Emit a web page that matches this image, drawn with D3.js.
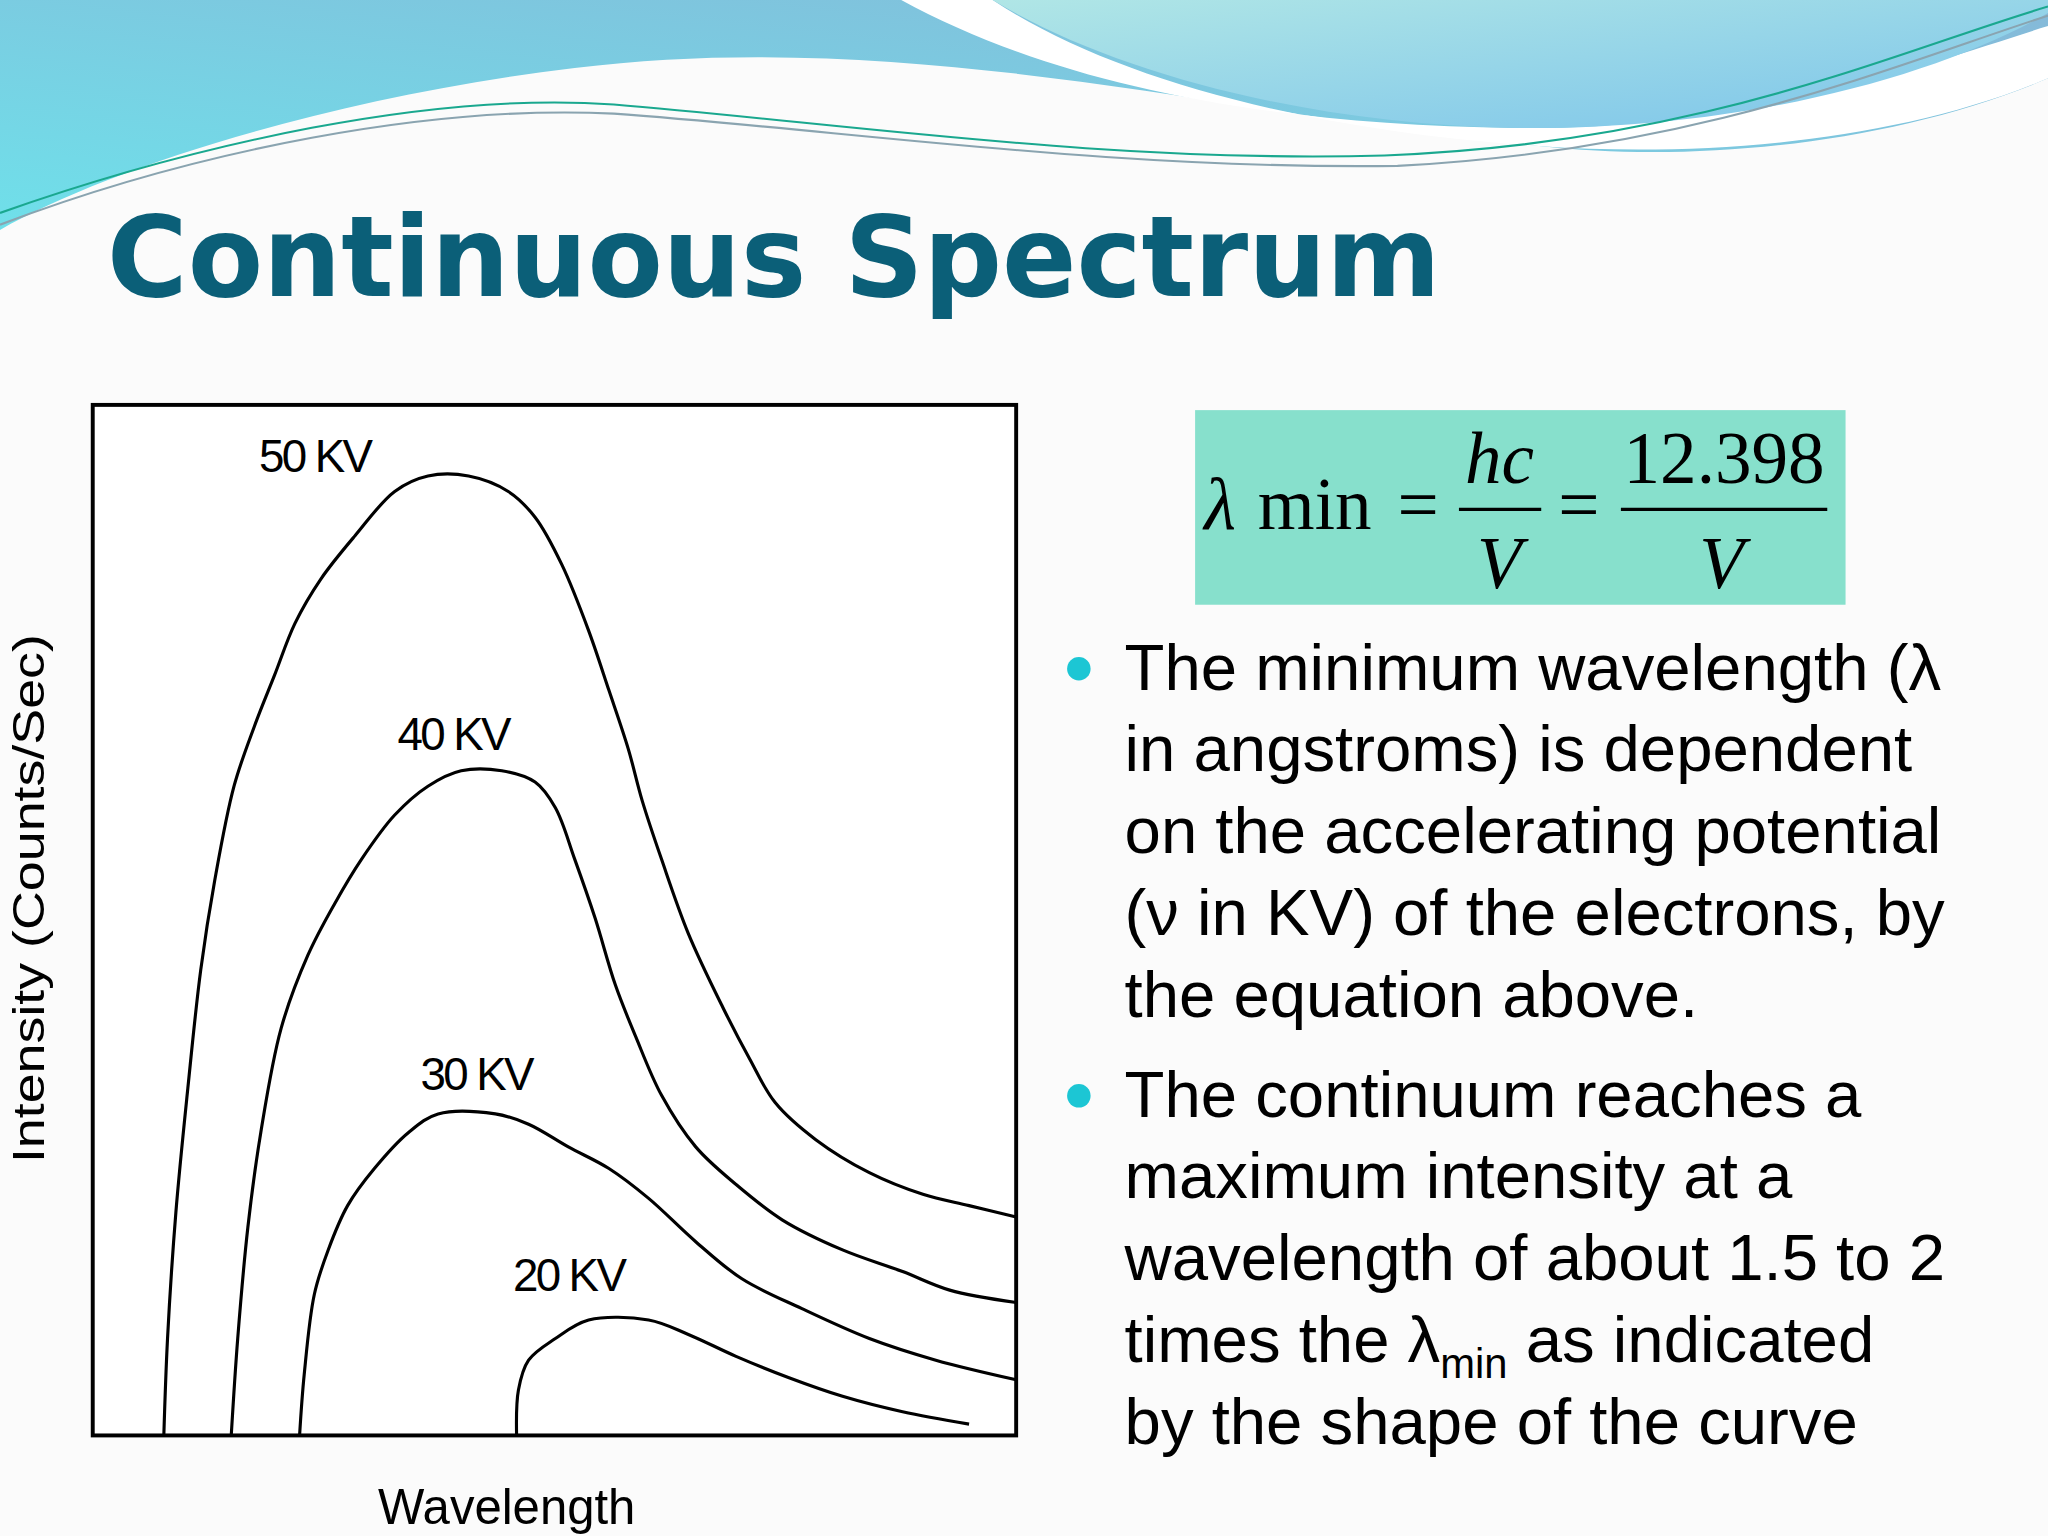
<!DOCTYPE html>
<html>
<head>
<meta charset="utf-8">
<script src="https://cdn.jsdelivr.net/npm/d3@7"></script>
<style>
  body { margin: 0; background: #fbfbfb; }
  svg { display: block; }
</style>
</head>
<body>
<div id="slide"></div>
<script>
// curves: x = wavelength (0-100 of plot width), y = intensity (0-100 of plot height)
var kv50X = [7.7, 8.1, 9.0, 10.3, 11.7, 13.2, 15.3, 17.5, 19.7, 21.9, 24.7, 28.4, 32.7, 36.3, 40.7, 45.0, 47.9, 50.8, 53.7, 55.9, 58.0, 59.5, 61.6, 64.5, 68.2, 71.1, 73.9, 78.3, 84.1, 89.9, 94.9, 100];
var kv50Y = [0, 9.4, 21.6, 33.7, 45.2, 53.8, 63.0, 68.8, 73.8, 78.8, 83.1, 87.3, 91.6, 93.1, 93.1, 91.6, 89.1, 84.5, 78.1, 72.3, 66.6, 61.6, 55.9, 48.7, 41.6, 36.6, 32.3, 28.7, 25.5, 23.4, 22.3, 21.2];
var kv40X = [15.0, 15.7, 16.8, 18.2, 20.4, 23.3, 26.2, 29.1, 32.7, 36.3, 39.9, 44.3, 47.9, 50.1, 52.2, 54.4, 56.6, 58.8, 61.6, 65.3, 69.6, 74.7, 81.2, 87.7, 92.8, 100];
var kv40Y = [0, 9.4, 20.2, 29.4, 39.5, 46.6, 51.6, 55.9, 60.2, 63.0, 64.5, 64.5, 63.4, 60.9, 55.9, 50.2, 43.7, 38.7, 33.0, 28.0, 24.4, 20.9, 18.0, 15.9, 14.1, 12.9];
var kv30X = [22.4, 22.9, 24.0, 25.5, 27.6, 30.5, 34.2, 37.4, 43.6, 47.2, 51.5, 55.9, 60.2, 65.3, 70.3, 76.8, 84.1, 91.3, 100];
var kv30Y = [0, 5.9, 13.7, 18.0, 22.3, 25.9, 29.4, 31.2, 31.2, 30.2, 28.0, 25.9, 23.0, 18.8, 15.2, 12.3, 9.4, 7.3, 5.4];
var kv20X = [45.9, 46.1, 47.2, 50.1, 53.7, 60.2, 64.5, 69.6, 75.4, 81.2, 87.7, 94.9];
var kv20Y = [0, 4.4, 7.3, 9.4, 11.2, 11.2, 9.8, 7.7, 5.6, 3.8, 2.3, 1.1];
var curveLabels = ["50 KV", "40 KV", "30 KV", "20 KV"];
var labelAt = [[18.0, 93.5], [33.0, 66.5], [35.5, 33.5], [45.5, 14.0]];

var series = [[kv50X, kv50Y], [kv40X, kv40Y], [kv30X, kv30Y], [kv20X, kv20Y]];

var bullet1 = ["The minimum wavelength (\u03bb", "in angstroms) is dependent", "on the accelerating potential", "(\u03bd in KV) of the electrons, by", "the equation above."];
var bullet2 = ["The continuum reaches a", "maximum intensity at a", "wavelength of about 1.5 to 2", null, "by the shape of the curve"];

var svg = d3.select("#slide").append("svg")
    .attr("width", 2048).attr("height", 1536)
    .attr("viewBox", "0 0 1568 1176");

// header waves
var defs = svg.append("defs");
var g1 = defs.append("linearGradient").attr("id", "wave1").attr("x1", 0).attr("y1", 1).attr("x2", 1).attr("y2", 0);
g1.append("stop").attr("offset", 0).attr("stop-color", "#6fe0ea");
g1.append("stop").attr("offset", 1).attr("stop-color", "#86b8d8");
var g2 = defs.append("linearGradient").attr("id", "wave2").attr("x1", 0).attr("y1", 0).attr("x2", 1).attr("y2", 1);
g2.append("stop").attr("offset", 0).attr("stop-color", "#b0e6e6");
g2.append("stop").attr("offset", 1).attr("stop-color", "#7cc4ea");

svg.append("path").attr("fill", "url(#wave1)")
    .attr("d", "M0,0 L1568,0 L1568,60 C1450,110 1300,125 1180,112 C950,90 700,20 440,52 C250,75 80,130 0,176 Z");
svg.append("path").attr("fill", "#ffffff")
    .attr("d", "M690,0 C800,60 950,95 1160,98 C1350,100 1500,40 1568,20 L1568,60 C1450,110 1300,120 1180,112 C1000,100 850,60 760,0 Z");
svg.append("path").attr("fill", "url(#wave2)")
    .attr("d", "M760,0 C850,55 1000,95 1160,98 C1330,100 1480,60 1568,10 L1568,0 Z");
svg.append("path").attr("fill", "none").attr("stroke", "#1aa88f").attr("stroke-width", 1.6)
    .attr("d", "M0,163 C150,110 330,70 470,80 C650,95 850,125 1060,119 C1300,110 1450,40 1568,5");
svg.append("path").attr("fill", "none").attr("stroke", "#8aa4b0").attr("stroke-width", 1.6)
    .attr("d", "M0,172 C150,115 330,80 470,87 C650,100 850,130 1070,127 C1300,115 1450,50 1568,12");

// title
svg.append("text").attr("x", 82).attr("y", 227)
    .attr("font-family", "DejaVu Sans").attr("font-weight", "bold").attr("font-size", 86)
    .attr("textLength", 1021).attr("lengthAdjust", "spacingAndGlyphs")
    .attr("fill", "#0b5f78").text("Continuous Spectrum");

// chart
var plot = { left: 71, top: 310, right: 778, bottom: 1099 };
var x = d3.scaleLinear().domain([0, 100]).range([plot.left, plot.right]);
var y = d3.scaleLinear().domain([0, 100]).range([plot.bottom, plot.top]);

svg.append("rect").attr("x", plot.left).attr("y", plot.top)
    .attr("width", plot.right - plot.left).attr("height", plot.bottom - plot.top)
    .attr("fill", "#ffffff").attr("stroke", "#000").attr("stroke-width", 3);

var line = d3.line().x(function (d) { return x(d[0]); }).y(function (d) { return y(d[1]); })
    .curve(d3.curveCatmullRom.alpha(0.5));
series.forEach(function (s) {
    svg.append("path")
        .datum(d3.zip(s[0], s[1]))
        .attr("fill", "none").attr("stroke", "#000").attr("stroke-width", 2.4)
        .attr("d", line);
});
curveLabels.forEach(function (t, i) {
    svg.append("text").attr("x", x(labelAt[i][0])).attr("y", y(labelAt[i][1]))
        .attr("font-family", "Liberation Sans").attr("font-size", 35).attr("letter-spacing", -2)
        .attr("fill", "#000").text(t);
});
svg.append("text").attr("transform", "translate(34,688) rotate(-90)")
    .attr("text-anchor", "middle").attr("font-family", "Liberation Sans").attr("font-size", 34)
    .attr("textLength", 405).attr("lengthAdjust", "spacingAndGlyphs")
    .attr("fill", "#000").text("Intensity (Counts/Sec)");
svg.append("text").attr("x", 388).attr("y", 1167).attr("text-anchor", "middle")
    .attr("font-family", "Liberation Sans").attr("font-size", 38)
    .attr("textLength", 197).attr("lengthAdjust", "spacingAndGlyphs")
    .attr("fill", "#000").text("Wavelength");

// equation box
var eq = svg.append("g").attr("font-family", "Liberation Serif").attr("fill", "#000");
eq.append("rect").attr("x", 915).attr("y", 314).attr("width", 498).attr("height", 149).attr("fill", "#87e0cc");
eq.append("text").attr("x", 922).attr("y", 405).attr("font-size", 56).attr("font-style", "italic").text("\u03bb");
eq.append("text").attr("x", 963).attr("y", 405).attr("font-size", 56).text("min");
eq.append("text").attr("x", 1070).attr("y", 405).attr("font-size", 56).text("=");
eq.append("text").attr("x", 1148).attr("y", 370).attr("font-size", 56).attr("font-style", "italic").attr("text-anchor", "middle").text("hc");
eq.append("line").attr("x1", 1117).attr("x2", 1180).attr("y1", 390).attr("y2", 390).attr("stroke", "#000").attr("stroke-width", 2.5);
eq.append("text").attr("x", 1148).attr("y", 450).attr("font-size", 56).attr("font-style", "italic").attr("text-anchor", "middle").text("V");
eq.append("text").attr("x", 1193).attr("y", 405).attr("font-size", 56).text("=");
eq.append("text").attr("x", 1320).attr("y", 370).attr("font-size", 56).attr("text-anchor", "middle").text("12.398");
eq.append("line").attr("x1", 1241).attr("x2", 1399).attr("y1", 390).attr("y2", 390).attr("stroke", "#000").attr("stroke-width", 2.5);
eq.append("text").attr("x", 1318).attr("y", 450).attr("font-size", 56).attr("font-style", "italic").attr("text-anchor", "middle").text("V");

// bullets
var txt = svg.append("g").attr("font-family", "Liberation Sans").attr("font-size", 50).attr("fill", "#000");
function addBullet(lines, y0) {
    svg.append("circle").attr("cx", 826).attr("cy", y0 - 16).attr("r", 9).attr("fill", "#1cc6d4");
    lines.forEach(function (l, i) {
        var t = txt.append("text").attr("x", 861).attr("y", y0 + i * 62.6);
        if (l === null) {
            t.append("tspan").text("times the \u03bb");
            t.append("tspan").attr("font-size", 32).attr("dy", 12).text("min");
            t.append("tspan").attr("dy", -12).text(" as indicated");
        } else {
            t.text(l);
        }
    });
}
addBullet(bullet1, 528);
addBullet(bullet2, 855);
</script>
</body>
</html>
